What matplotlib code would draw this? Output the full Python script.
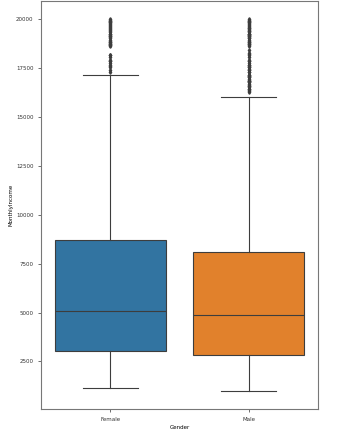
import matplotlib
matplotlib.use("Agg")
from matplotlib import pyplot as plt

# Данные
genders = ['Female', 'Male']
box_colors = ['#3274a1', '#e1812c']
whis_low = [1129, 1009]
q1 = [3040, 2840]
medians = [5080, 4880]
q3 = [8720, 8110]
whis_high = [17170, 16030]
female_outliers = [19999, 19973, 19943, 19926, 19859, 19847, 19833, 19740, 19717, 19665,
                   19626, 19586, 19502, 19436, 19392, 19331, 19272, 19232, 19189, 19161,
                   19144, 19094, 19049, 18947, 18880, 18844, 18824, 18789, 18740, 18722,
                   18711, 18665, 18620, 18200, 18172, 18061, 17924, 17875, 17861, 17779,
                   17665, 17603, 17567, 17399, 17328]
male_outliers = [19999, 19973, 19943, 19926, 19859, 19845, 19833, 19740, 19717, 19665,
                 19636, 19586, 19545, 19502, 19436, 19419, 19392, 19331, 19272, 19246,
                 19232, 19202, 19189, 19161, 19144, 19094, 19049, 19033, 18947, 18880,
                 18844, 18824, 18789, 18740, 18722, 18665, 18620, 18430, 18303, 18213,
                 18172, 18061, 17924, 17875, 17861, 17779, 17665, 17650, 17603, 17584,
                 17567, 17465, 17426, 17399, 17328, 17294, 17174, 17159, 17123, 17099,
                 17068, 17048, 16959, 16885, 16872, 16856, 16835, 16799, 16792, 16704,
                 16659, 16606, 16595, 16555, 16437, 16422, 16413, 16328, 16307]
outliers = [female_outliers, male_outliers]

stats = []
for i in range(len(genders)):
    stats.append({'label': genders[i], 'whislo': whis_low[i], 'q1': q1[i], 'med': medians[i],
                  'q3': q3[i], 'whishi': whis_high[i], 'fliers': outliers[i]})

fig = plt.figure(figsize=(3.51, 4.32), dpi=100)
ax = fig.add_axes([0.117, 0.053, 0.789, 0.945])

gray = '#3d3d3d'
bp = ax.bxp(stats, positions=[0, 1], widths=0.8, patch_artist=True, capwidths=0.4,
            boxprops=dict(edgecolor=gray, linewidth=0.8),
            whiskerprops=dict(color=gray, linewidth=0.8),
            capprops=dict(color=gray, linewidth=0.8),
            medianprops=dict(color=gray, linewidth=0.8),
            flierprops=dict(marker='d', markersize=1.8, markerfacecolor=gray,
                            markeredgecolor=gray, linestyle='none'))
for patch, c in zip(bp['boxes'], box_colors):
    patch.set_facecolor(c)

ax.set_xlim(-0.5, 1.5)
ax.set_ylim(59, 20949)
ax.set_yticks([2500, 5000, 7500, 10000, 12500, 15000, 17500, 20000])
ax.set_xticklabels(genders)
ax.tick_params(labelsize=4, length=2, width=0.5, colors='#333333')
ax.set_xlabel('Gender', fontsize=4, labelpad=2)
ax.set_ylabel('MonthlyIncome', fontsize=4, labelpad=2)
for s in ax.spines.values():
    s.set_color('#777777')
    s.set_linewidth(0.8)

fig.savefig('out.png', dpi=100)
